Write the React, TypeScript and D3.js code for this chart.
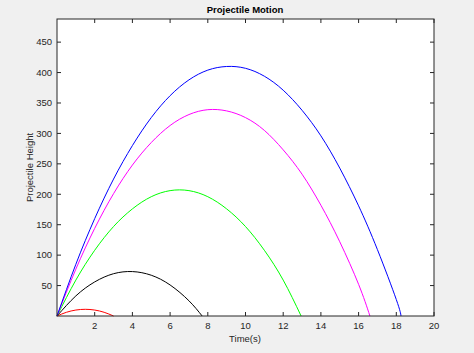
import React, { useEffect } from 'react';
import * as d3 from 'd3';

// time / height samples
const blueT = [0, 1, 2, 3, 4, 5, 6, 7, 8, 9, 10, 11, 12, 13, 14, 15, 16, 17, 18, 18.25];
const blueH = [0, 85, 160, 225, 280, 326, 362, 388, 404, 410, 407, 394, 371, 338, 296, 243, 181, 109, 27, 0];

const magentaT = [0, 1, 2, 3, 4, 5, 6, 7, 8, 9, 10, 11, 12, 13, 14, 15, 16, 16.6];
const magentaH = [0, 77, 144, 201, 248, 285, 313, 331, 339, 337, 326, 305, 273, 233, 182, 122, 52, 0];

const greenT = [0, 1, 2, 3, 4, 5, 6, 7, 8, 9, 10, 11, 12, 12.95];
const greenH = [0, 59, 108, 147, 176, 196, 206, 206, 196, 176, 147, 108, 59, 0];

const blackT = [0, 1, 2, 3, 4, 5, 6, 7, 7.7];
const blackH = [0, 33, 56, 69.5, 73, 67, 51, 25, 0];

const redT = [0, 0.5, 1, 1.5, 2, 2.5, 3];
const redH = [0, 6.1, 9.8, 11, 9.8, 6.1, 0];

const xTicks = [2, 4, 6, 8, 10, 12, 14, 16, 18, 20];
const yTicks = [50, 100, 150, 200, 250, 300, 350, 400, 450];

const series = [
  { t: redT, h: redH, color: '#ff0000' },
  { t: blackT, h: blackH, color: '#000000' },
  { t: greenT, h: greenH, color: '#00ff00' },
  { t: magentaT, h: magentaH, color: '#ff00ff' },
  { t: blueT, h: blueH, color: '#0000ff' },
];

const W = 474;
const H = 353;
const left = 57, right = 434, top = 19, bottom = 316;
const axisColor = '#262626';
const font = '"Liberation Sans", Arial, Helvetica, sans-serif';

export default function App() {
  useEffect(() => {
    document.body.style.margin = '0';
  }, []);

  const x = d3.scaleLinear().domain([0, 20]).range([left, right]);
  const y = d3.scaleLinear().domain([0, 488]).range([bottom, top]);

  const line = d3.line<[number, number]>()
    .x(d => x(d[0]))
    .y(d => y(d[1]))
    .curve(d3.curveNatural);

  const tickLen = 4;

  return (
    <svg width={W} height={H} style={{ display: 'block' }} fontFamily={font}>
      <rect x={0} y={0} width={W} height={H} fill="#f0f0f0" />
      <rect x={left} y={top} width={right - left} height={bottom - top} fill="#ffffff" />

      <g>
        {series.map((s, i) => (
          <path
            key={i}
            d={line(s.t.map((t, j) => [t, s.h[j]] as [number, number])) || ''}
            fill="none"
            stroke={s.color}
            strokeWidth={1}
          />
        ))}
      </g>

      <rect x={left} y={top} width={right - left} height={bottom - top} fill="none" stroke={axisColor} strokeWidth={1} />

      {xTicks.map(t => (
        <g key={'x' + t}>
          <line x1={x(t)} x2={x(t)} y1={bottom} y2={bottom - tickLen} stroke={axisColor} />
          <line x1={x(t)} x2={x(t)} y1={top} y2={top + tickLen} stroke={axisColor} />
          <text x={x(t)} y={329} fontSize={9.5} fill={axisColor} textAnchor="middle">{t}</text>
        </g>
      ))}

      {yTicks.map(t => (
        <g key={'y' + t}>
          <line x1={left} x2={left + tickLen} y1={y(t)} y2={y(t)} stroke={axisColor} />
          <line x1={right} x2={right - tickLen} y1={y(t)} y2={y(t)} stroke={axisColor} />
          <text x={52} y={y(t)} dy="0.35em" fontSize={9.5} fill={axisColor} textAnchor="end">{t}</text>
        </g>
      ))}

      <text x={245} y={13} fontSize={9.5} fontWeight="bold" fill="#000" textAnchor="middle">Projectile Motion</text>
      <text x={245} y={341.5} fontSize={9.5} fill={axisColor} textAnchor="middle">Time(s)</text>
      <text
        transform={`translate(33,${(top + bottom) / 2}) rotate(-90)`}
        fontSize={9.5}
        fill={axisColor}
        textAnchor="middle"
      >Projectile Height</text>
    </svg>
  );
}
